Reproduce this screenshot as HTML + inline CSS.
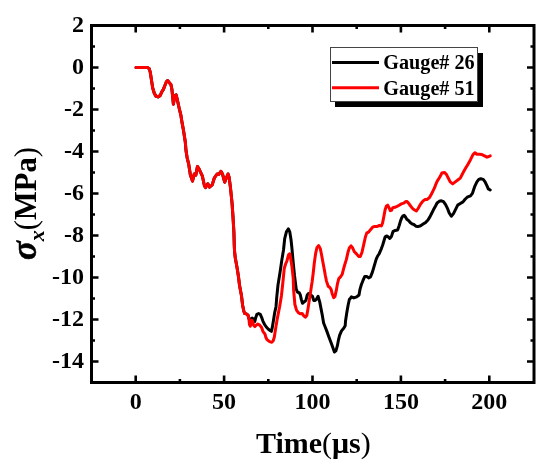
<!DOCTYPE html>
<html><head><meta charset="utf-8"><title>Stress history</title><style>
html,body{margin:0;padding:0;background:#fff;overflow:hidden}
svg{display:block}
text{font-family:"Liberation Serif","Times New Roman",serif;font-weight:bold;fill:#000}
</style></head><body>
<svg width="550" height="472" viewBox="0 0 550 472">
<g fill="none" stroke-width="3" stroke-linejoin="round" stroke-linecap="round">
<path stroke="#000" d="M136 67.4 L147 67.4 L149.1 68.5 L150.2 71.9 L151 76.9 L151.9 82.9 L152.7 88 L154.2 93 L155.8 96 L158 96.9 L160.1 95.6 L161.8 91.8 L163.4 89.4 L164.7 86 L166.4 81.8 L167.6 80.5 L169.3 82.6 L171 84.7 L171.9 89.4 L172.7 97 L173.4 104.2 L174.2 99.6 L175.1 95.3 L176.1 94.9 L176.9 97.9 L178.2 103.8 L179.5 109.7 L180.8 114.8 L182.1 122.9 L183.3 129.2 L185.3 141.9 L186 150.5 L187.1 157.6 L188.7 164.2 L190.4 175.1 L192.5 181.1 L194.2 174 L195.8 175.1 L197.5 166.4 L199.1 169.1 L202.4 176.2 L204.5 186 L205.6 187.6 L207.8 183.8 L209.5 187.1 L212.2 184.9 L214.4 177.8 L217.1 174 L218.7 174.5 L220.9 171.3 L222.5 174 L224.7 182.2 L226.4 177.8 L228 174 L229.1 177.3 L230.4 187.1 L232 202.7 L232.9 215.4 L233.9 232 L234.3 246 L234.6 252 L235.3 258 L236.3 263.5 L237.1 267.9 L238.3 275.5 L239.6 285.7 L241.5 295.8 L242.6 305.2 L243.8 310.9 L244.7 313.5 L246.4 313.9 L248 315.2 L248.9 318.6 L250.3 319.5 L252.3 318.1 L254 319.4 L254.8 321.5 L255.7 317.7 L256.9 314.3 L258.6 313.5 L260.3 314.3 L261.6 317.3 L262.9 321.1 L264.6 324.5 L266.3 327 L268.4 329.2 L270.1 330.4 L271.4 331.3 L272.2 327.9 L273.5 320.3 L274.7 312.6 L276 306.7 L276.7 297.7 L278 285 L280.1 272 L281.8 260.2 L283.5 250 L284.7 238.6 L286.4 231.9 L288.4 228.9 L289.8 231.9 L291.1 240.3 L291.9 248 L293.2 262.7 L294.5 275.4 L295.8 285.6 L296.2 289.2 L297.5 292.2 L299.2 292.6 L300.4 295.2 L301.3 299.4 L302.5 303.2 L304.2 301.9 L305.9 300.3 L307.2 295.2 L308.5 293.5 L309.7 294.3 L311 295.2 L312.5 296.5 L313.8 300.6 L315.1 300.6 L316.4 299.2 L318.1 296.3 L319.7 301.8 L321 308.6 L322.3 315.3 L323.6 323 L325.3 327.2 L326.9 331.4 L328.9 336.9 L331.1 342.8 L333 348 L334.4 352 L335.9 350.9 L337.4 345.7 L338.5 339.8 L339.6 335.4 L341.5 330.9 L343.7 328.3 L345.2 325.7 L345.6 320.4 L346.9 311.9 L348.1 305.2 L349.4 299.2 L350 298.8 L351.4 296.9 L353.8 297.9 L356.7 296.9 L359 295 L360 289.3 L361.4 284.5 L362.9 280.7 L364.8 276.4 L366.7 276.4 L368.6 277.9 L370.5 276.9 L372.4 272.1 L373.8 267.4 L375.2 262.6 L376.3 258.8 L377.5 256.3 L379.2 253.7 L381.4 248.6 L382.6 245.3 L383.9 241 L385.2 236.8 L386.9 235.9 L388.6 237.2 L389.8 238.5 L391.5 236.4 L392.4 233.4 L393.2 231.3 L395.3 230.4 L397.5 230 L397.9 229.3 L399.2 225.5 L400.4 221.3 L401.7 217.9 L403 215.8 L404.2 215.3 L405.5 217 L406.8 219.2 L408.5 220.4 L410.2 222.5 L411.9 223.8 L413.8 224.5 L415.9 226.2 L418 226.6 L420.6 225.8 L423.1 224.1 L425.7 222.4 L427.8 220.3 L429.9 216.9 L431.6 213.5 L433.3 210.1 L435.4 206.3 L437.1 203 L439.2 201.3 L441.4 200.8 L443.5 201.7 L445.6 204.7 L447.7 208.9 L449.2 213 L451.3 216.2 L453.5 213.6 L455.6 209.3 L457.7 205.1 L460.3 203.5 L463 201.9 L465.1 199.3 L467.2 197.2 L470.5 195.9 L472.4 193.4 L473.7 189.6 L475 185.8 L476.9 181.9 L478.8 179.4 L480.7 178.8 L483.2 179.4 L485.1 181.9 L487 185.8 L488.3 188.9 L490.2 190"/>
<path stroke="#f00" d="M136 67.4 L147 67.4 L149.1 68.5 L150.2 71.9 L151 76.9 L151.9 82.9 L152.7 88 L154.2 93 L155.8 96 L158 96.9 L160.1 95.6 L161.8 91.8 L163.4 89.4 L164.7 86 L166.4 81.8 L167.6 80.5 L169.3 82.6 L171 84.7 L171.9 89.4 L172.7 97 L173.4 104.2 L174.2 99.6 L175.1 95.3 L176.1 94.9 L176.9 97.9 L178.2 103.8 L179.5 109.7 L180.8 114.8 L182.1 122.9 L183.3 129.2 L185.3 141.9 L186 150.5 L187.1 157.6 L188.7 164.2 L190.4 175.1 L192.5 181.1 L194.2 174 L195.8 175.1 L197.5 166.4 L199.1 169.1 L202.4 176.2 L204.5 186 L205.6 187.6 L207.8 183.8 L209.5 187.1 L212.2 184.9 L214.4 177.8 L217.1 174 L218.7 174.5 L220.9 171.3 L222.5 174 L224.7 182.2 L226.4 177.8 L228 174 L229.1 177.3 L230.4 187.1 L232 202.7 L232.9 215.4 L233.9 232 L234.3 246 L234.6 252 L235.3 258 L236.3 263.5 L237.1 267.9 L238.3 275.5 L239.6 285.7 L241.5 295.8 L242.6 305.2 L243.8 310.9 L244.7 313.5 L246.4 313.9 L248 315.2 L248.9 318.6 L249.5 324.5 L250.3 326.2 L251 322.8 L251.9 320.3 L252.7 322 L253.6 325.3 L254.8 326.6 L256.1 325.3 L257.8 324.1 L259.5 324.9 L261.6 327.5 L262.9 331.3 L265 334.2 L265.8 337.2 L267.1 339.7 L269.2 341.4 L271.8 342.3 L273.1 341 L274.3 337.2 L275.6 328.7 L277.3 318.6 L279.7 306.2 L281.4 296 L282.8 283 L284.3 268.2 L285.6 264 L286.9 261 L288.6 254.7 L289.8 253.8 L290.7 258.5 L292 267 L293.2 278 L293.6 290 L294.9 304.5 L296.6 310.4 L298.7 313 L300.4 313.8 L302.1 313.4 L303.8 315.9 L305.3 317.2 L306.8 315.5 L308 308.7 L309.3 300.3 L310.6 291.8 L311.6 285 L312.1 281.9 L313.1 274 L314.3 263 L315.6 253.6 L316.9 247.7 L318.7 245.6 L320.3 248.6 L321.5 254.5 L323.2 263.8 L324.4 270.1 L325.3 275.2 L326.5 281.1 L328.2 286.2 L329.9 287.5 L331.2 289.6 L332.2 293.8 L333.7 297.6 L335 296.4 L336.3 290.4 L337.5 283.6 L338.8 278.6 L340.5 276.9 L342.2 274.3 L343.5 269.2 L344.8 264.5 L346.4 259.4 L348 252.2 L349.3 248 L351 245.8 L352.7 248 L354.4 251.8 L356.5 253.9 L358.6 256.4 L360.3 256.4 L362 252.2 L363.7 244.6 L365.4 237 L366.7 233.1 L368.8 231.9 L370.5 229.7 L372.6 227.2 L374.7 226.4 L377.3 226.4 L379.4 225.5 L381.4 225.9 L382.6 223 L383.9 216.2 L385.2 209.4 L386.4 206 L387.7 205.2 L389 207.7 L390.3 210.7 L391.5 210.3 L392.8 207.7 L394.9 207.3 L397 206.4 L399.2 205.2 L401.3 203.9 L403.8 203.1 L405.5 201.8 L406.8 201.4 L408.5 203.1 L410.6 206 L412.7 208.6 L414.2 209.7 L416.4 211 L418.1 208.5 L420.2 204.7 L422.7 201.3 L424.8 199.6 L426.9 199.6 L429.5 197.5 L431.2 194.5 L432.9 191.1 L434.6 187.7 L435.8 184.3 L437.1 181.4 L439.2 178 L440.5 175.8 L441.9 173 L444.4 172.4 L446.4 174.3 L448.3 178.1 L450.2 181.9 L452.7 183.9 L455.3 181.9 L457.8 180 L460.3 178.1 L462.9 173 L465.4 168.6 L468 164.2 L470.5 159.7 L473 154.6 L475 152.7 L476.9 154.2 L479.4 154.2 L481.9 154.6 L484.5 155.9 L487 157.2 L488.9 156.5 L490.2 155.9"/>
</g>
<path fill="none" stroke="#000" stroke-width="2.6" d="M135.7 382.5 V375.5 M135.7 25.5 V32.5 M179.9 382.5 V379 M179.9 25.5 V29 M224.1 382.5 V375.5 M224.1 25.5 V32.5 M268.3 382.5 V379 M268.3 25.5 V29 M312.5 382.5 V375.5 M312.5 25.5 V32.5 M356.7 382.5 V379 M356.7 25.5 V29 M400.9 382.5 V375.5 M400.9 25.5 V32.5 M445.1 382.5 V379 M445.1 25.5 V29 M489.3 382.5 V375.5 M489.3 25.5 V32.5 M91.5 361.5 H98.5 M534 361.5 H527 M91.5 340.5 H95 M534 340.5 H530.5 M91.5 319.5 H98.5 M534 319.5 H527 M91.5 298.5 H95 M534 298.5 H530.5 M91.5 277.5 H98.5 M534 277.5 H527 M91.5 256.5 H95 M534 256.5 H530.5 M91.5 235.5 H98.5 M534 235.5 H527 M91.5 214.5 H95 M534 214.5 H530.5 M91.5 193.5 H98.5 M534 193.5 H527 M91.5 172.5 H95 M534 172.5 H530.5 M91.5 151.5 H98.5 M534 151.5 H527 M91.5 130.5 H95 M534 130.5 H530.5 M91.5 109.5 H98.5 M534 109.5 H527 M91.5 88.5 H95 M534 88.5 H530.5 M91.5 67.5 H98.5 M534 67.5 H527 M91.5 46.5 H95 M534 46.5 H530.5"/>
<rect x="91.5" y="25.5" width="442.5" height="357" fill="none" stroke="#000" stroke-width="3"/>
<g font-size="24" text-anchor="end">
<text x="84" y="367.8">-14</text>
<text x="84" y="325.8">-12</text>
<text x="84" y="283.8">-10</text>
<text x="84" y="241.8">-8</text>
<text x="84" y="199.8">-6</text>
<text x="84" y="157.8">-4</text>
<text x="84" y="115.8">-2</text>
<text x="84" y="73.8">0</text>
<text x="84" y="31.8">2</text>
</g>
<g font-size="24" text-anchor="middle">
<text x="135.7" y="409">0</text>
<text x="224.1" y="409">50</text>
<text x="312.5" y="409">100</text>
<text x="400.9" y="409">150</text>
<text x="489.3" y="409">200</text>
</g>
<text x="256" y="452.5" font-size="30">Time<tspan font-weight="normal">(</tspan>&#956;s<tspan font-weight="normal">)</tspan></text>
<text transform="translate(36 260) rotate(-90)" font-size="30.5"><tspan font-style="italic" font-size="35" stroke="#000" stroke-width="0.5">&#963;</tspan><tspan font-style="italic" font-size="22" dy="8">x</tspan><tspan dy="-8" font-weight="normal">(</tspan>MPa<tspan font-weight="normal">)</tspan></text>
<rect x="335" y="53" width="148" height="54" fill="#000"/>
<rect x="330.5" y="47.5" width="147" height="54" fill="#fff" stroke="#444" stroke-width="1"/>
<path d="M332 62.5 H379" stroke="#000" stroke-width="3"/>
<path d="M332 87.7 H379" stroke="#f00" stroke-width="3"/>
<g font-size="20.2"><text x="383.3" y="69.3">Gauge# 26</text><text x="383.3" y="94.5">Gauge# 51</text></g>
</svg>
</body></html>
